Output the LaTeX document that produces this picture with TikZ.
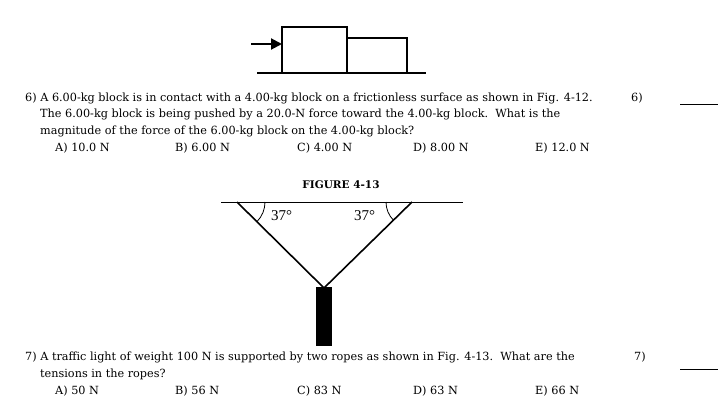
\documentclass[tikz,border=0pt]{standalone}
\usepackage{fontspec}
\setmainfont{DejaVu Serif}
\newfontfamily\degfont{Liberation Serif}
\usetikzlibrary{arrows.meta}
\begin{document}
\begin{tikzpicture}[x=1pt,y=-1pt,
  txt/.style={anchor=west,inner sep=0pt,font=\fontsize{11.25}{13}\selectfont},
  degl/.style={anchor=west,inner sep=0pt,font=\degfont\fontsize{15}{17}\selectfont},
  thick2/.style={line width=2pt}]
\useasboundingbox (0,0) rectangle (726,416);
% figure 4-12
\draw[thick2] (282,73) rectangle (347,27);
\draw[thick2] (347,73) rectangle (407,38);
\draw[thick2] (257,73) -- (426,73);
\coordinate (as) at (251,44);
\coordinate (ae) at (282,44);
\draw[thick2,-{Triangle[length=11pt,width=11pt]}] (as) -- (ae);
% question 6
\node[txt] (q6a) at (25,98) {6) A 6.00-kg block is in contact with a 4.00-kg block on a frictionless surface as shown in Fig. 4-12.};
\node[txt] (q6b) at (40,114) {The 6.00-kg block is being pushed by a 20.0-N force toward the 4.00-kg block.\ \ What is the};
\node[txt] (q6c) at (40,131) {magnitude of the force of the 6.00-kg block on the 4.00-kg block?};
\node[txt] (a6a) at (55,148) {A) 10.0 N};
\node[txt] (a6b) at (175,148) {B) 6.00 N};
\node[txt] (a6c) at (297,148) {C) 4.00 N};
\node[txt] (a6d) at (413,148) {D) 8.00 N};
\node[txt] (a6e) at (535,148) {E) 12.0 N};
\node[txt] (n6) at (631,98) {6)};
\draw (680,104) -- (718,104);
% figure 4-13
\node[txt,anchor=center,font=\bfseries\fontsize{10.5}{12}\selectfont] (fig) at (341,185) {FIGURE 4-13};
\draw[line width=1pt] (221,202) -- (463,202);
\coordinate (L) at (237,202);
\coordinate (R) at (412,202);
\coordinate (V) at (324,288);
\draw[line width=1.6pt] (L) -- (V) -- (R);
\fill (316,287) rectangle (332,346);
\draw[line width=0.8pt] ([shift={(28,0)}]L) arc[start angle=0,end angle=44,radius=28];
\draw[line width=0.8pt] ([shift={(-26,0)}]R) arc[start angle=180,end angle=136,radius=26];
\node[degl] (d1) at (271,216) {37°};
\node[degl] (d2) at (354,216) {37°};
% question 7
\node[txt] (q7a) at (25,357) {7) A traffic light of weight 100 N is supported by two ropes as shown in Fig. 4-13.\ \ What are the};
\node[txt] (q7b) at (40,374) {tensions in the ropes?};
\node[txt] (a7a) at (55,391) {A) 50 N};
\node[txt] (a7b) at (175,391) {B) 56 N};
\node[txt] (a7c) at (297,391) {C) 83 N};
\node[txt] (a7d) at (413,391) {D) 63 N};
\node[txt] (a7e) at (535,391) {E) 66 N};
\node[txt] (n7) at (634,357) {7)};
\draw (680,369) -- (718,369);
\end{tikzpicture}
\end{document}
